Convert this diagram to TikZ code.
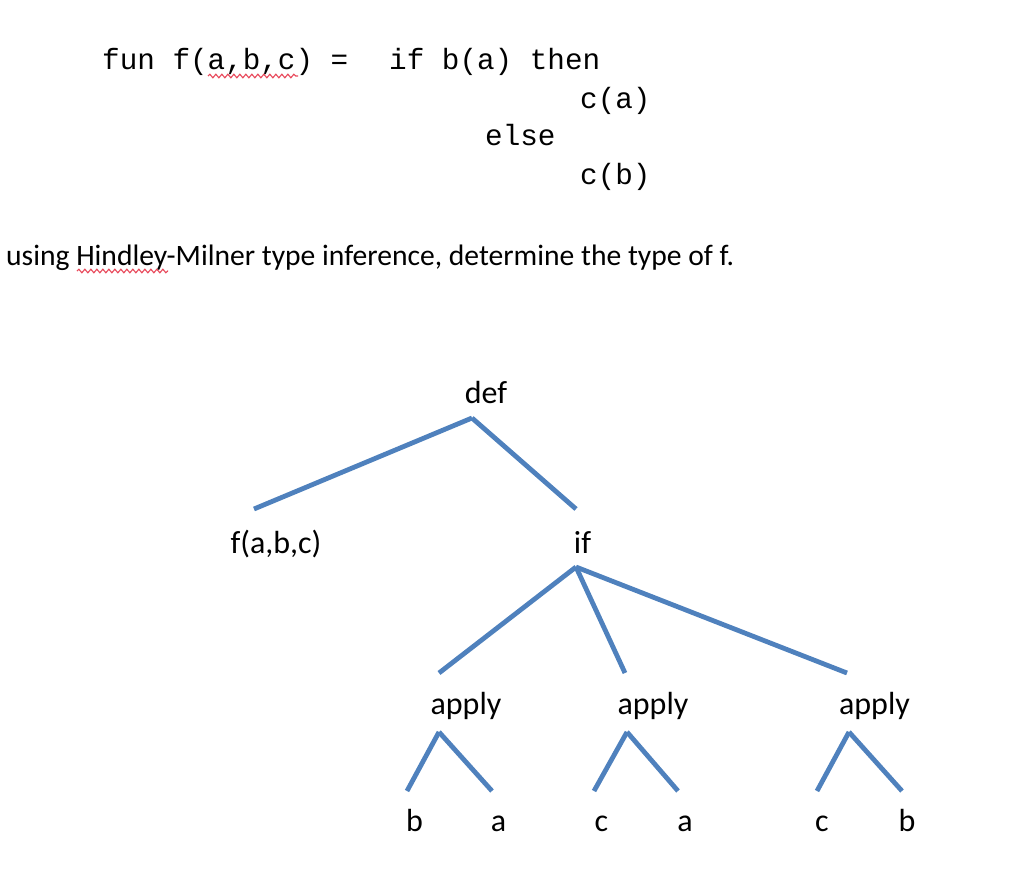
\documentclass[tikz,border=0pt]{standalone}
\usepackage{fontspec}
\setmainfont{Carlito}
\setmonofont{Liberation Mono}
\usetikzlibrary{decorations.pathmorphing}
\definecolor{treeblue}{HTML}{4F81BD}
\definecolor{spellred}{HTML}{E8485A}
\begin{document}
\begin{tikzpicture}[x=1pt, y=-1pt, every node/.style={inner sep=0pt},
  code/.style={font=\ttfamily\fontsize{29.3}{35}\selectfont, anchor=base west},
  txt/.style={font=\fontsize{29.6}{35}\selectfont, anchor=base west},
  lbl/.style={font=\fontsize{32}{38}\selectfont, anchor=base},
  branch/.style={draw=treeblue, line width=4.8pt},
  spell/.style={draw=spellred, line width=1.1pt, decorate,
    decoration={snake, segment length=6pt, amplitude=1.8pt}}]
  \useasboundingbox (0,0) rectangle (1013,875);
  % the program
  \node[code] (head) at (102,70) {fun f(a,b,c) =};
  \node[code] (cond) at (389,70) {if b(a) then};
  \node[code] (thenpart) at (580,108) {c(a)};
  \node[code] (elsekw) at (485,146) {else};
  \node[code] (elsepart) at (580,184) {c(b)};
  \node[txt] (task) at (6,265) {using Hindley-Milner type inference, determine the type of f.};
  \draw[spell] (208,76) -- (298,76);
  \draw[spell] (77,271) -- (168,271);
  % the tree
  \node[lbl] (def) at (486,403) {def};
  \node[lbl] (fabc) at (276,553) {f(a,b,c)};
  \node[lbl] (if) at (582.5,553) {if};
  \node[lbl] (ap1) at (466,714) {apply};
  \node[lbl] (ap2) at (653,714) {apply};
  \node[lbl] (ap3) at (874.5,714) {apply};
  \node[lbl] (b1) at (414.5,831) {b};
  \node[lbl] (a1) at (498.5,831) {a};
  \node[lbl] (c2) at (601.5,831) {c};
  \node[lbl] (a2) at (685,831) {a};
  \node[lbl] (c3) at (822,831) {c};
  \node[lbl] (b3) at (907,831) {b};
  % branch ends
  \coordinate (def-j) at (472,418);
  \coordinate (fabc-t) at (254,509);
  \coordinate (if-t) at (576,509);
  \coordinate (if-j) at (576,567);
  \coordinate (ap1-t) at (439,673);
  \coordinate (ap2-t) at (625,673);
  \coordinate (ap3-t) at (847,673);
  \coordinate (ap1-j) at (439,732);
  \coordinate (ap2-j) at (627,732);
  \coordinate (ap3-j) at (849,732);
  \coordinate (b1-t) at (407,791);
  \coordinate (a1-t) at (492,791);
  \coordinate (c2-t) at (594,791);
  \coordinate (a2-t) at (678,791);
  \coordinate (c3-t) at (817,791);
  \coordinate (b3-t) at (902,791);
  \foreach \p/\c in {def-j/fabc-t, def-j/if-t, if-j/ap1-t, if-j/ap2-t, if-j/ap3-t,
    ap1-j/b1-t, ap1-j/a1-t, ap2-j/c2-t, ap2-j/a2-t, ap3-j/c3-t, ap3-j/b3-t}
    \draw[branch] (\p) -- (\c);
\end{tikzpicture}
\end{document}
